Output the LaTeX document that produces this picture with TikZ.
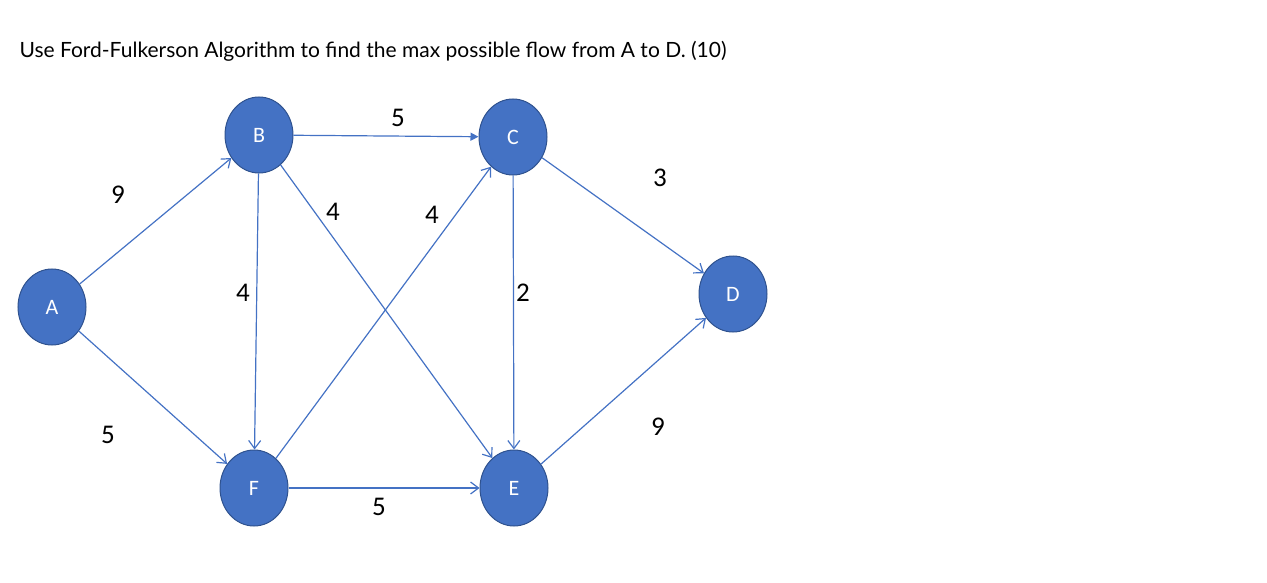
\documentclass[tikz,border=0pt]{standalone}
\usepackage{fontspec}
\setmainfont{Lato}
\newfontfamily\carfont{Carlito}
\usetikzlibrary{arrows.meta,shapes.geometric}
\definecolor{nb}{HTML}{4472C4}
\definecolor{nd}{HTML}{2F528F}
\tikzset{
 vert/.style={ellipse,fill=nb,draw=nd,line width=1pt,minimum width=68pt,minimum height=76pt,text=white,font=\carfont\fontsize{22}{22}\selectfont},
 edge/.style={draw=nb,line width=1.2pt,-{Straight Barb[length=8pt,width=12pt]}},
 wt/.style={font=\carfont\fontsize{27}{27}\selectfont}
}
\begin{document}
\begin{tikzpicture}[x=1pt,y=-1pt]
\useasboundingbox (0,0) rectangle (1267,583);
\node[anchor=west,font=\fontsize{21}{21}\selectfont] (t) at (16,51) {Use Ford-Fulkerson Algorithm to find the max possible flow from A to D. (10)};
\node[vert] (A) at (52,307) {A};
\node[vert] (B) at (259,135) {B};
\node[vert] (C) at (513,137) {C};
\node[vert] (D) at (733,294) {D};
\node[vert] (E) at (514,488) {E};
\node[vert] (F) at (254,488) {F};
\draw[edge] (A) -- (B);
\draw[edge] (A) -- (F);
\draw[draw=nb,line width=1.2pt,-{Triangle[length=8pt,width=8pt]}] (B) -- (C);
\draw[edge] (B) -- (F);
\draw[edge] (B) -- (E);
\draw[edge] (C) -- (D);
\draw[edge] (C) -- (E);
\draw[edge] (F) -- (C);
\draw[edge] (F) -- (E);
\draw[edge] (E) -- (D);
\node[wt] (w1) at (118,195) {9};
\node[wt] (w2) at (398,118) {5};
\node[wt] (w3) at (660,178) {3};
\node[wt] (w4) at (333,212) {4};
\node[wt] (w5) at (432,215) {4};
\node[wt] (w6) at (243,293) {4};
\node[wt] (w7) at (523,293) {2};
\node[wt] (w8) at (108,435) {5};
\node[wt] (w9) at (658,427) {9};
\node[wt] (w10) at (379,507) {5};
\end{tikzpicture}
\end{document}
